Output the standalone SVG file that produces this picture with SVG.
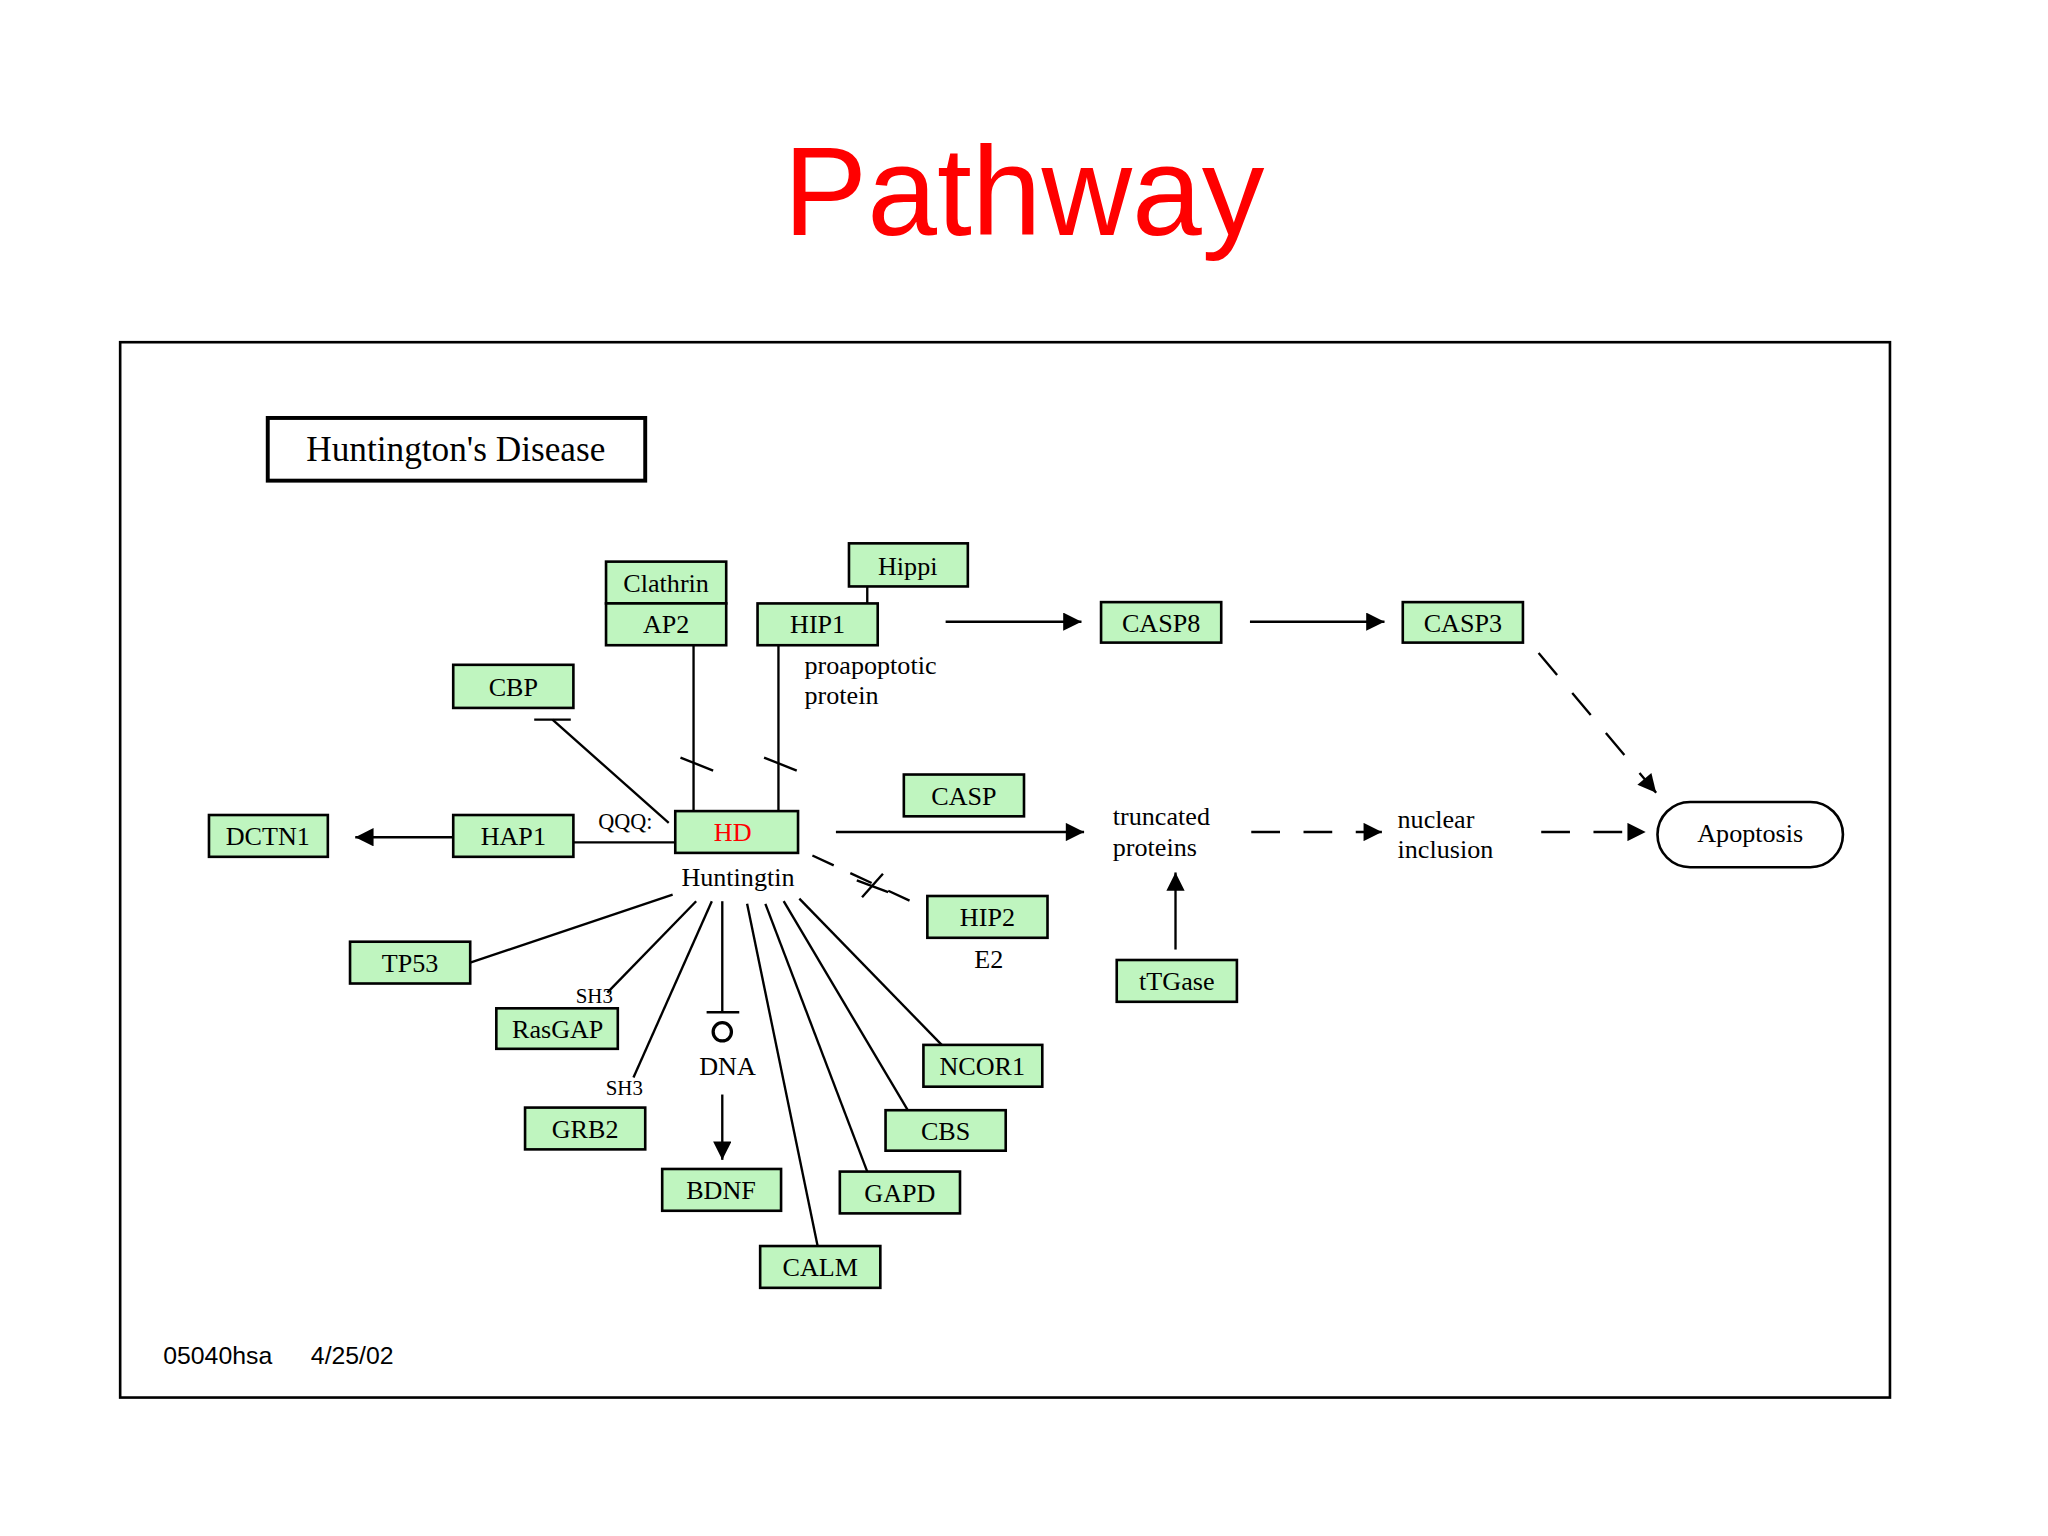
<svg xmlns="http://www.w3.org/2000/svg" width="2048" height="1536" viewBox="0 0 2048 1536">
<style>
.n rect{fill:#bff5bf;stroke:#000;stroke-width:2}
.n text,.t{font-family:"Liberation Serif",serif;font-size:20px;fill:#000}
.n text{text-anchor:middle}
.c line,.c path{stroke:#000;stroke-width:1.8;fill:none}
.d{stroke-dasharray:22 18}
</style>
<defs>
<marker id="b" viewBox="0 0 10 10" refX="10" refY="5" markerWidth="20" markerHeight="14" orient="auto" markerUnits="userSpaceOnUse"><path d="M0,0 L10,5 L0,10 z" fill="#000"/></marker>
</defs>
<rect width="2048" height="1536" fill="#fff"/>
<g transform="scale(1.30612)">
<text x="784" y="180" font-family="Liberation Sans,sans-serif" font-size="96" fill="#f00" text-anchor="middle">Pathway</text>
<rect x="92" y="262" width="1355" height="808" fill="none" stroke="#000" stroke-width="2"/>
<g id="title"><rect x="205" y="320" width="289" height="48" fill="#fff" stroke="#000" stroke-width="3"/><text class="t" x="349" y="353" text-anchor="middle" style="font-size:27px">Huntington's Disease</text></g>
<g class="c">
<line x1="531" y1="494" x2="531" y2="621"/><line x1="521" y1="580" x2="546" y2="590"/>
<line x1="596" y1="494" x2="596" y2="621"/><line x1="585" y1="580" x2="610" y2="590"/>
<line x1="664" y1="449" x2="664" y2="462"/>
<line x1="423" y1="551" x2="512" y2="630"/><line x1="409" y1="551" x2="437" y2="551"/>
<line x1="439" y1="645" x2="517" y2="645"/>
<line x1="347" y1="641" x2="272" y2="641" marker-end="url(#b)"/>
<line x1="640" y1="637" x2="830" y2="637" marker-end="url(#b)"/>
<line x1="724" y1="476" x2="828" y2="476" marker-end="url(#b)"/>
<line x1="957" y1="476" x2="1060" y2="476" marker-end="url(#b)"/>
<line class="d" x1="1178" y1="500" x2="1268" y2="607" marker-end="url(#b)"/>
<line class="d" x1="958" y1="637" x2="1058" y2="637" marker-end="url(#b)"/>
<line class="d" x1="1180" y1="637" x2="1260" y2="637" marker-end="url(#b)"/>
<line x1="900" y1="727" x2="900" y2="668" marker-end="url(#b)"/>
<line class="d" x1="622" y1="655" x2="706" y2="694" style="stroke-dasharray:18 14"/>
<line x1="660" y1="687" x2="676" y2="669"/><line x1="656" y1="674" x2="680" y2="683"/>
<line x1="360" y1="737" x2="515" y2="685"/>
<line x1="465" y1="760" x2="533" y2="690"/>
<line x1="485" y1="825" x2="545" y2="690"/>
<line x1="553" y1="690" x2="553" y2="775"/><line x1="541" y1="775" x2="566" y2="775"/>
<circle cx="553" cy="790" r="7" fill="none" stroke="#000" stroke-width="2.5"/>
<line x1="553" y1="838" x2="553" y2="888" marker-end="url(#b)"/>
<line x1="572" y1="692" x2="626" y2="954"/>
<line x1="586" y1="692" x2="664" y2="897"/>
<line x1="600" y1="690" x2="695" y2="850"/>
<line x1="612" y1="688" x2="721" y2="800"/>
</g>
<g id="clathrin" class="n"><rect x="464" y="430" width="92" height="32"/><text x="510" y="453">Clathrin</text></g>
<g id="ap2" class="n"><rect x="464" y="462" width="92" height="32"/><text x="510" y="485">AP2</text></g>
<g id="hippi" class="n"><rect x="650" y="416" width="91" height="33"/><text x="695" y="440">Hippi</text></g>
<g id="hip1" class="n"><rect x="580" y="462" width="92" height="32"/><text x="626" y="485">HIP1</text></g>
<g id="cbp" class="n"><rect x="347" y="509" width="92" height="33"/><text x="393" y="533">CBP</text></g>
<g id="casp8" class="n"><rect x="843" y="461" width="92" height="31"/><text x="889" y="484">CASP8</text></g>
<g id="casp3" class="n"><rect x="1074" y="461" width="92" height="31"/><text x="1120" y="484">CASP3</text></g>
<g id="casp" class="n"><rect x="692" y="593" width="92" height="32"/><text x="738" y="616">CASP</text></g>
<g id="dctn1" class="n"><rect x="160" y="624" width="91" height="32"/><text x="205" y="647">DCTN1</text></g>
<g id="hap1" class="n"><rect x="347" y="624" width="92" height="32"/><text x="393" y="647">HAP1</text></g>
<g id="hd" class="n"><rect x="517" y="621" width="94" height="32"/><text x="561" y="644" style="fill:#f00">HD</text></g>
<g id="hip2" class="n"><rect x="710" y="686" width="92" height="32"/><text x="756" y="709">HIP2</text></g>
<g id="tp53" class="n"><rect x="268" y="721" width="92" height="32"/><text x="314" y="744">TP53</text></g>
<g id="rasgap" class="n"><rect x="380" y="772" width="93" height="31"/><text x="427" y="795">RasGAP</text></g>
<g id="ncor1" class="n"><rect x="707" y="800" width="91" height="32"/><text x="752" y="823">NCOR1</text></g>
<g id="grb2" class="n"><rect x="402" y="848" width="92" height="32"/><text x="448" y="871">GRB2</text></g>
<g id="cbs" class="n"><rect x="678" y="850" width="92" height="31"/><text x="724" y="873">CBS</text></g>
<g id="bdnf" class="n"><rect x="507" y="895" width="91" height="32"/><text x="552" y="918">BDNF</text></g>
<g id="gapd" class="n"><rect x="643" y="897" width="92" height="32"/><text x="689" y="920">GAPD</text></g>
<g id="calm" class="n"><rect x="582" y="954" width="92" height="32"/><text x="628" y="977">CALM</text></g>
<g id="ttgase" class="n"><rect x="855" y="735" width="92" height="32"/><text x="901" y="758">tTGase</text></g>
<g id="apoptosis"><rect x="1269" y="614" width="142" height="50" rx="25" fill="#fff" stroke="#000" stroke-width="2"/><text class="t" x="1340" y="645" text-anchor="middle">Apoptosis</text></g>
<text class="t" x="616" y="516">proapoptotic</text>
<text class="t" x="616" y="539">protein</text>
<text class="t" x="565" y="678" text-anchor="middle">Huntingtin</text>
<text class="t" x="757" y="741" text-anchor="middle">E2</text>
<text class="t" x="455" y="768" text-anchor="middle" style="font-size:16px">SH3</text>
<text class="t" x="478" y="838" text-anchor="middle" style="font-size:16px">SH3</text>
<text class="t" x="557" y="823" text-anchor="middle">DNA</text>
<text class="t" x="458" y="635" style="font-size:17px">QQQ:</text>
<text class="t" x="852" y="632">truncated</text>
<text class="t" x="852" y="655">proteins</text>
<text class="t" x="1070" y="634">nuclear</text>
<text class="t" x="1070" y="657">inclusion</text>
<text x="125" y="1044" font-family="Liberation Sans,sans-serif" font-size="19">05040hsa</text>
<text x="238" y="1044" font-family="Liberation Sans,sans-serif" font-size="19">4/25/02</text>
</g>
</svg>
